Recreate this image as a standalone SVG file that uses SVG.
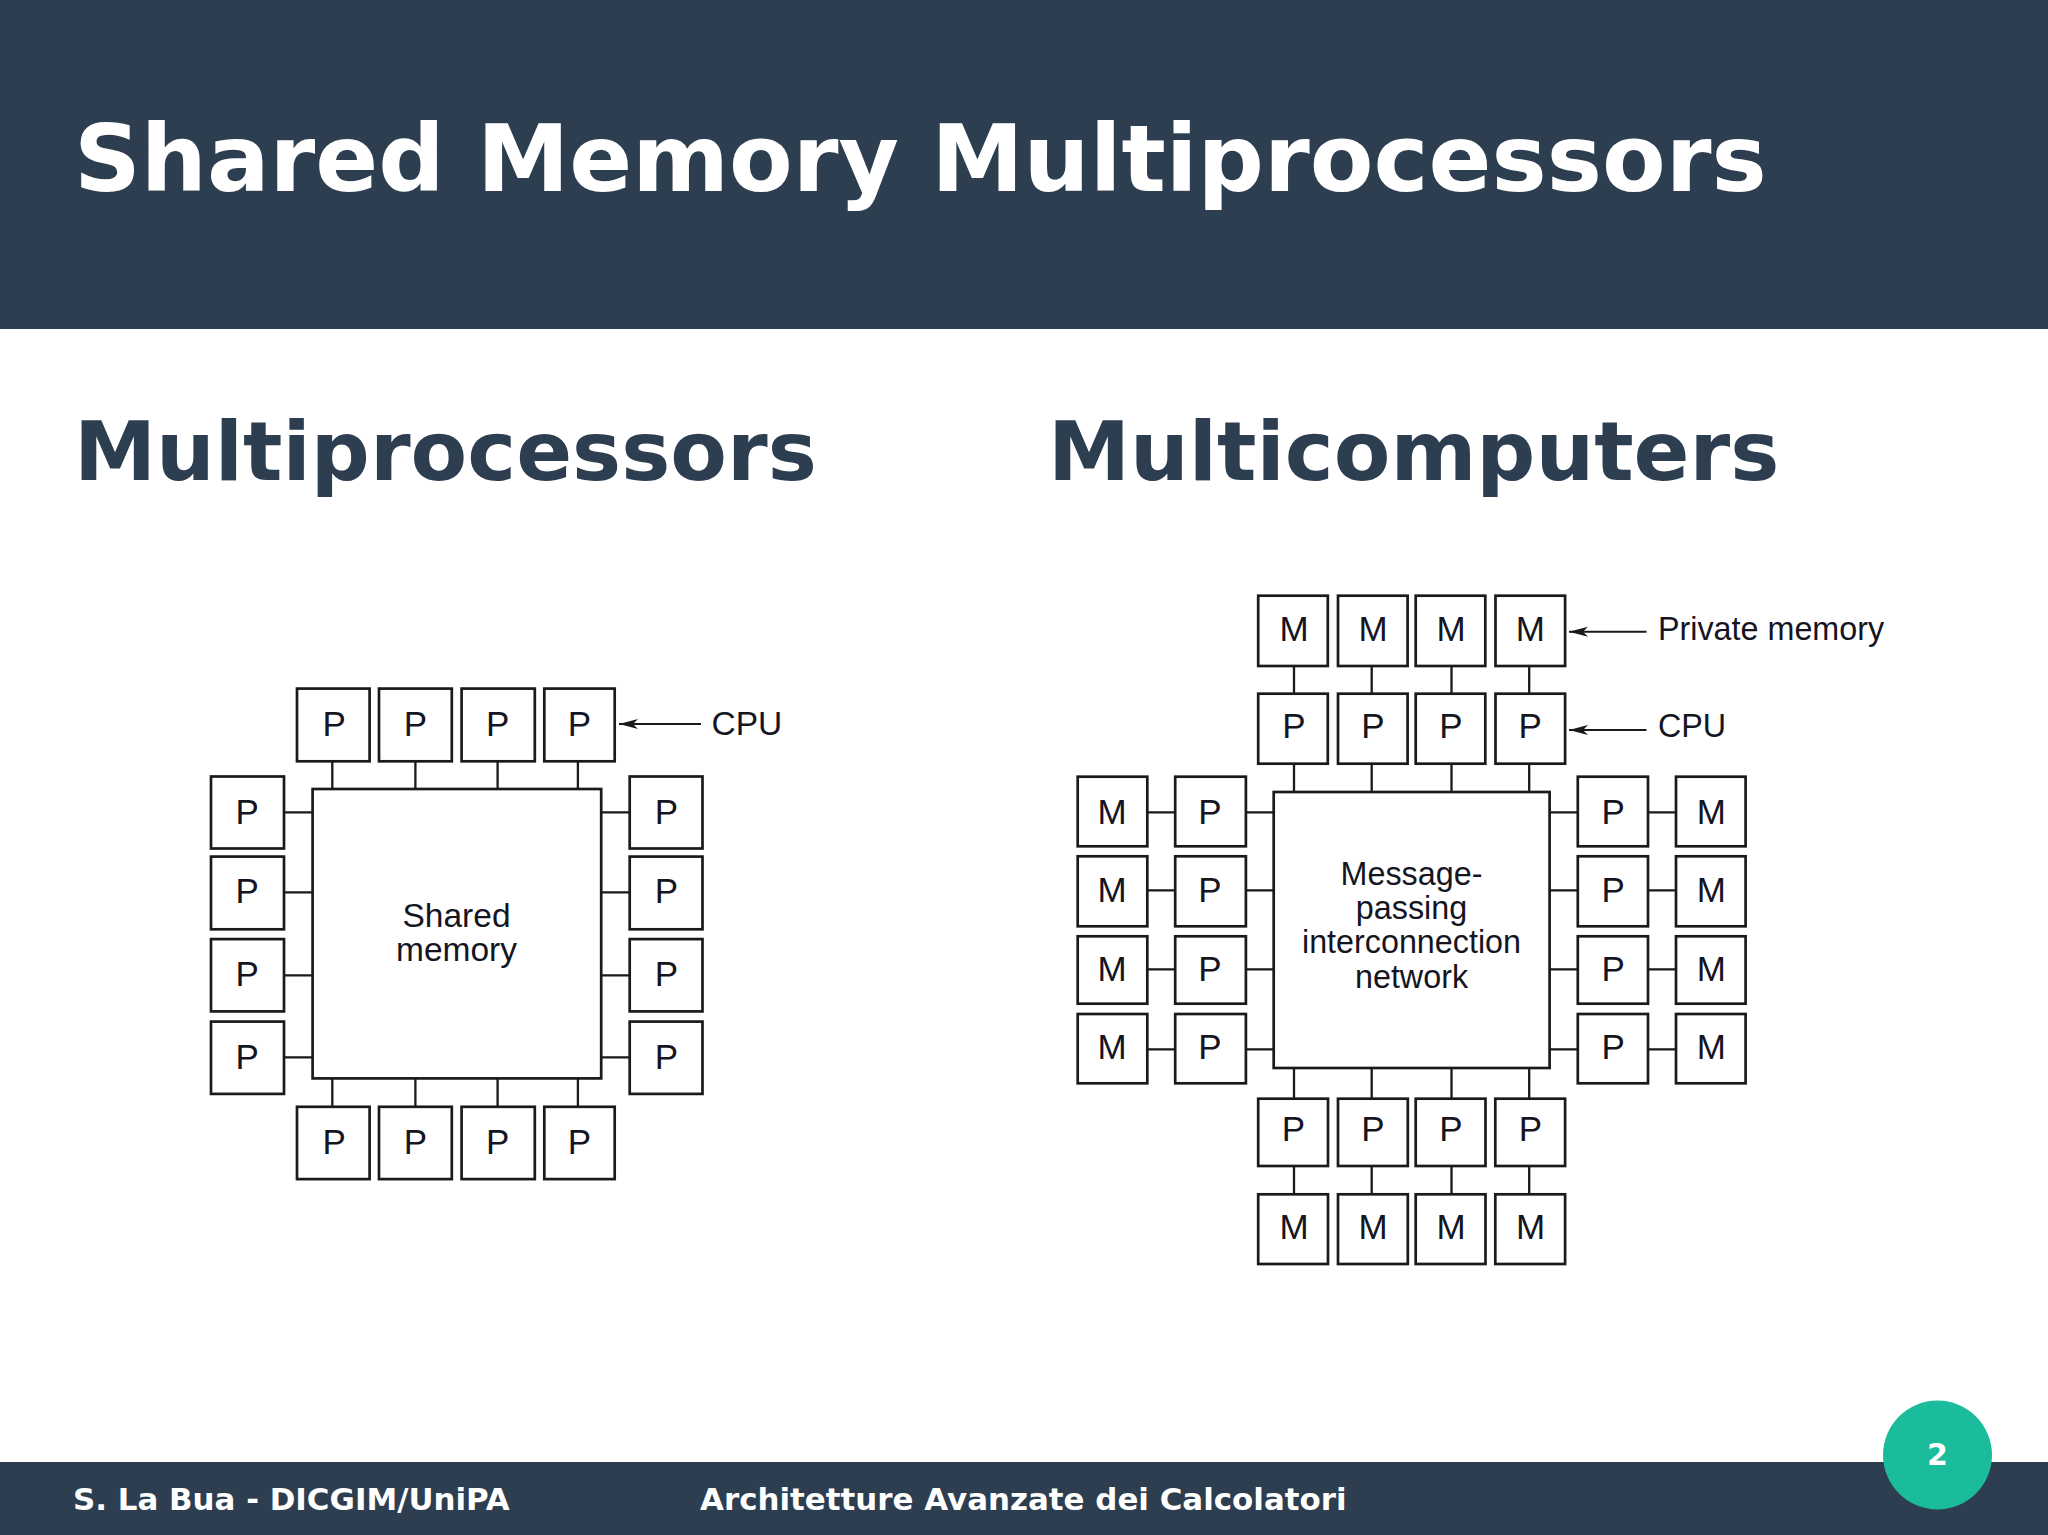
<svg xmlns="http://www.w3.org/2000/svg" width="2048" height="1535" viewBox="0 0 2048 1535">
<style>
.bar{fill:#2c3e50}
.h1{font:bold 92.8px "DejaVu Sans",sans-serif;fill:#fff}
.h2{font:bold 82.5px "DejaVu Sans",sans-serif;fill:#2c3e50}
.ft{font:bold 30.9px "DejaVu Sans",sans-serif;fill:#fff}
.num{font:bold 30px "DejaVu Sans",sans-serif;fill:#fff;text-anchor:middle}
.b{fill:#fff;stroke:#1a1a1a;stroke-width:2.7}
.c{stroke:#1a1a1a;stroke-width:2.3;fill:none}
.a{stroke:#1a1a1a;stroke-width:2;fill:none;marker-end:url(#ah)}
.t{font:35px "Liberation Sans",Arial,sans-serif;fill:#15151f;text-anchor:middle}
.l{font:32.3px "Liberation Sans",Arial,sans-serif;fill:#15151f;text-anchor:middle}
.s{font:32.3px "Liberation Sans",Arial,sans-serif;fill:#15151f}
.big{font-size:33.5px}
</style>
<defs><marker id="ah" markerUnits="userSpaceOnUse" markerWidth="20" markerHeight="12" refX="19" refY="6" orient="auto"><path d="M0 1 L19 6 L0 11 L5 6 Z" fill="#1a1a1a"/></marker></defs>
<rect width="2048" height="1535" fill="#fff"/>
<g id="header"><rect class="bar" width="2048" height="329"/><text class="h1" x="74" y="191">Shared Memory Multiprocessors</text></g>
<text class="h2" x="74" y="480">Multiprocessors</text>
<text class="h2" x="1048" y="480">Multicomputers</text>
<g id="footer"><rect class="bar" y="1462" width="2048" height="73"/><text class="ft" x="73" y="1510">S. La Bua - DICGIM/UniPA</text><text class="ft" x="700" y="1510">Architetture Avanzate dei Calcolatori</text></g>
<g id="page"><circle cx="1937.5" cy="1455" r="54.5" fill="#1abc9c"/><text class="num" x="1937.5" y="1465">2</text></g>

<g id="connectors">
<path class="c" d="M332.3 761V789M415.4 761V789M497.6 761V789M577.9 761V789M332.3 1078V1107M415.4 1078V1107M497.6 1078V1107M577.9 1078V1107M284 812.3H313M284 892.4H313M284 975.3H313M284 1057.4H313M601 812.3H630M601 892.4H630M601 975.3H630M601 1057.4H630"/>
<path class="a" d="M701 724.1H619"/>
<path class="c" d="M1294 666V694M1371.7 666V694M1451.5 666V694M1529.2 666V694M1294 764V792M1371.7 764V792M1451.5 764V792M1529.2 764V792M1294 1068V1099M1371.7 1068V1099M1451.5 1068V1099M1529.2 1068V1099M1294 1166V1194M1371.7 1166V1194M1451.5 1166V1194M1529.2 1166V1194"/>
<path class="c" d="M1147 812.3H1175M1246 812.3H1274M1550 812.3H1578M1648 812.3H1676M1147 890.3H1175M1246 890.3H1274M1550 890.3H1578M1648 890.3H1676M1147 969.3H1175M1246 969.3H1274M1550 969.3H1578M1648 969.3H1676M1147 1049.3H1175M1246 1049.3H1274M1550 1049.3H1578M1648 1049.3H1676"/>
<path class="a" d="M1646.5 631.7H1569"/>
<path class="a" d="M1646.5 730H1569"/>
</g>

<g id="shared-memory"><rect class="b" x="312.6" y="789" width="288.6" height="289.4"/><text class="l big" x="456.5" y="927">Shared</text><text class="l big" x="456.5" y="961">memory</text></g>
<g id="cpu-label"><text class="s big" x="711.5" y="735">CPU</text></g>
<g id="lp-t1"><rect class="b" x="297" y="688.6" width="72.6" height="72.7"/><text class="t" x="334.3" y="736">P</text></g>
<g id="lp-t2"><rect class="b" x="379" y="688.6" width="72.8" height="72.7"/><text class="t" x="415.4" y="736">P</text></g>
<g id="lp-t3"><rect class="b" x="461.6" y="688.6" width="73.2" height="72.7"/><text class="t" x="497.6" y="736">P</text></g>
<g id="lp-t4"><rect class="b" x="544.3" y="688.6" width="70.4" height="72.7"/><text class="t" x="579.5" y="736">P</text></g>
<g id="lp-b1"><rect class="b" x="297" y="1106.8" width="72.6" height="72.3"/><text class="t" x="334.3" y="1154">P</text></g>
<g id="lp-b2"><rect class="b" x="379" y="1106.8" width="72.8" height="72.3"/><text class="t" x="415.4" y="1154">P</text></g>
<g id="lp-b3"><rect class="b" x="461.6" y="1106.8" width="73.2" height="72.3"/><text class="t" x="497.6" y="1154">P</text></g>
<g id="lp-b4"><rect class="b" x="544.3" y="1106.8" width="70.4" height="72.3"/><text class="t" x="579.5" y="1154">P</text></g>
<g id="lp-l1"><rect class="b" x="211" y="776.5" width="73" height="72"/><text class="t" x="247.3" y="823.8">P</text></g>
<g id="lp-l2"><rect class="b" x="211" y="856.6" width="73" height="72.7"/><text class="t" x="247.3" y="903.3">P</text></g>
<g id="lp-l3"><rect class="b" x="211" y="939.1" width="73" height="72.3"/><text class="t" x="247.3" y="986.1">P</text></g>
<g id="lp-l4"><rect class="b" x="211" y="1021.6" width="73" height="72.3"/><text class="t" x="247.3" y="1068.9">P</text></g>
<g id="lp-r1"><rect class="b" x="629.7" y="776.5" width="72.8" height="72"/><text class="t" x="666.5" y="823.8">P</text></g>
<g id="lp-r2"><rect class="b" x="629.7" y="856.6" width="72.8" height="72.7"/><text class="t" x="666.5" y="903.3">P</text></g>
<g id="lp-r3"><rect class="b" x="629.7" y="939.1" width="72.8" height="72.3"/><text class="t" x="666.5" y="986.1">P</text></g>
<g id="lp-r4"><rect class="b" x="629.7" y="1021.6" width="72.8" height="72.3"/><text class="t" x="666.5" y="1068.9">P</text></g>

<g id="network"><rect class="b" x="1273.7" y="792" width="275.9" height="276"/><text class="l" x="1411.5" y="885">Message-</text><text class="l" x="1411.5" y="919">passing</text><text class="l" x="1411.5" y="953">interconnection</text><text class="l" x="1411.5" y="988">network</text></g>
<g id="private-label"><text class="s" x="1658" y="640">Private memory</text></g>
<g id="cpu-label-2"><text class="s" x="1658" y="737">CPU</text></g>
<g id="m-t1"><rect class="b" x="1258.2" y="595.7" width="69.6" height="70.3"/><text class="t" x="1294" y="640.7">M</text></g>
<g id="m-t2"><rect class="b" x="1338" y="595.7" width="69.6" height="70.3"/><text class="t" x="1373" y="640.7">M</text></g>
<g id="m-t3"><rect class="b" x="1415.7" y="595.7" width="69.6" height="70.3"/><text class="t" x="1451" y="640.7">M</text></g>
<g id="m-t4"><rect class="b" x="1495.5" y="595.7" width="69.6" height="70.3"/><text class="t" x="1530.3" y="640.7">M</text></g>
<g id="p-t1"><rect class="b" x="1258.2" y="693.7" width="69.6" height="70"/><text class="t" x="1294" y="738.3">P</text></g>
<g id="p-t2"><rect class="b" x="1338" y="693.7" width="69.6" height="70"/><text class="t" x="1373" y="738.3">P</text></g>
<g id="p-t3"><rect class="b" x="1415.7" y="693.7" width="69.6" height="70"/><text class="t" x="1451" y="738.3">P</text></g>
<g id="p-t4"><rect class="b" x="1495.5" y="693.7" width="69.6" height="70"/><text class="t" x="1530.3" y="738.3">P</text></g>
<g id="p-b1"><rect class="b" x="1258.2" y="1098.7" width="69.8" height="67.3"/><text class="t" x="1293.5" y="1141">P</text></g>
<g id="p-b2"><rect class="b" x="1338" y="1098.7" width="69.8" height="67.3"/><text class="t" x="1373" y="1141">P</text></g>
<g id="p-b3"><rect class="b" x="1415.7" y="1098.7" width="69.8" height="67.3"/><text class="t" x="1451" y="1141">P</text></g>
<g id="p-b4"><rect class="b" x="1495.3" y="1098.7" width="69.8" height="67.3"/><text class="t" x="1530.5" y="1141">P</text></g>
<g id="m-b1"><rect class="b" x="1258.2" y="1194.3" width="69.8" height="69.7"/><text class="t" x="1294" y="1239.3">M</text></g>
<g id="m-b2"><rect class="b" x="1338" y="1194.3" width="69.8" height="69.7"/><text class="t" x="1373" y="1239.3">M</text></g>
<g id="m-b3"><rect class="b" x="1415.7" y="1194.3" width="69.8" height="69.7"/><text class="t" x="1451" y="1239.3">M</text></g>
<g id="m-b4"><rect class="b" x="1495.3" y="1194.3" width="69.8" height="69.7"/><text class="t" x="1530.5" y="1239.3">M</text></g>
<g id="m-l1"><rect class="b" x="1077.7" y="776.7" width="69.6" height="69.6"/><text class="t" x="1112" y="824.3">M</text></g>
<g id="m-l2"><rect class="b" x="1077.7" y="856.3" width="69.6" height="70"/><text class="t" x="1112" y="901.7">M</text></g>
<g id="m-l3"><rect class="b" x="1077.7" y="936.3" width="69.6" height="67.4"/><text class="t" x="1112" y="981">M</text></g>
<g id="m-l4"><rect class="b" x="1077.7" y="1014" width="69.6" height="69.3"/><text class="t" x="1112" y="1058.7">M</text></g>
<g id="p-l1"><rect class="b" x="1175.2" y="776.7" width="70.7" height="69.6"/><text class="t" x="1210" y="824.3">P</text></g>
<g id="p-l2"><rect class="b" x="1175.2" y="856.3" width="70.7" height="70"/><text class="t" x="1210" y="901.7">P</text></g>
<g id="p-l3"><rect class="b" x="1175.2" y="936.3" width="70.7" height="67.4"/><text class="t" x="1210" y="981">P</text></g>
<g id="p-l4"><rect class="b" x="1175.2" y="1014" width="70.7" height="69.3"/><text class="t" x="1210" y="1058.7">P</text></g>
<g id="p-r1"><rect class="b" x="1577.8" y="776.7" width="70.2" height="69.6"/><text class="t" x="1613.3" y="824.3">P</text></g>
<g id="p-r2"><rect class="b" x="1577.8" y="856.3" width="70.2" height="70"/><text class="t" x="1613.3" y="901.7">P</text></g>
<g id="p-r3"><rect class="b" x="1577.8" y="936.3" width="70.2" height="67.4"/><text class="t" x="1613.3" y="981">P</text></g>
<g id="p-r4"><rect class="b" x="1577.8" y="1014" width="70.2" height="69.3"/><text class="t" x="1613.3" y="1058.7">P</text></g>
<g id="m-r1"><rect class="b" x="1676" y="776.7" width="69.6" height="69.6"/><text class="t" x="1711.3" y="824.3">M</text></g>
<g id="m-r2"><rect class="b" x="1676" y="856.3" width="69.6" height="70"/><text class="t" x="1711.3" y="901.7">M</text></g>
<g id="m-r3"><rect class="b" x="1676" y="936.3" width="69.6" height="67.4"/><text class="t" x="1711.3" y="981">M</text></g>
<g id="m-r4"><rect class="b" x="1676" y="1014" width="69.6" height="69.3"/><text class="t" x="1711.3" y="1058.7">M</text></g>
</svg>
